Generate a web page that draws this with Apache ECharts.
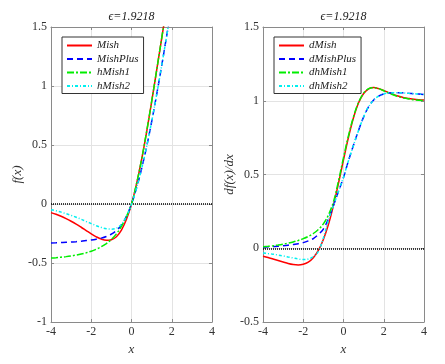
<!DOCTYPE html>
<html>
<head>
<meta charset="utf-8">
<script src="https://cdn.jsdelivr.net/npm/echarts@6/dist/echarts.min.js"></script>
<style>html,body{margin:0;padding:0;background:#fff;}#c{width:445px;height:364px;}</style>
</head>
<body>
<div id="c"></div>
<script>
// ---- data ----
const titleText = 'ϵ=1.9218';
const xTicks = [-4, -2, 0, 2, 4];
const xLeft = [-4,-3.75,-3.5,-3.25,-3,-2.75,-2.5,-2.25,-2,-1.75,-1.5,-1.25,-1,-0.75,-0.5,-0.25,0,0.25,0.5,0.75,1,1.25,1.5,1.75,2];
const xRight = [-4,-3.75,-3.5,-3.25,-3,-2.75,-2.5,-2.25,-2,-1.75,-1.5,-1.25,-1,-0.75,-0.5,-0.25,0,0.25,0.5,0.75,1,1.25,1.5,1.75,2,2.25,2.5,2.75,3,3.25,3.5,3.75,4];

const leftNames = ['Mish', 'MishPlus', 'hMish1', 'hMish2'];
const rightNames = ['dMish', 'dMishPlus', 'dhMish1', 'dhMish2'];

const mish = [-0.073,-0.087,-0.104,-0.124,-0.146,-0.170,-0.197,-0.225,-0.253,-0.278,-0.298,-0.308,-0.303,-0.277,-0.221,-0.130,0,0.170,0.375,0.610,0.865,1.132,1.403,1.675,1.944];
const mishPlus = [-0.330,-0.329,-0.327,-0.325,-0.322,-0.319,-0.315,-0.310,-0.305,-0.298,-0.289,-0.275,-0.255,-0.225,-0.178,-0.105,0,0.135,0.298,0.485,0.696,0.927,1.173,1.427,1.686];
const hMish1 = [-0.458,-0.455,-0.451,-0.446,-0.440,-0.433,-0.424,-0.413,-0.400,-0.383,-0.362,-0.335,-0.300,-0.253,-0.190,-0.105,0,0.172,0.378,0.613,0.868,1.135,1.405,1.677,1.945];
const hMish2 = [-0.048,-0.058,-0.069,-0.082,-0.096,-0.112,-0.129,-0.148,-0.166,-0.184,-0.199,-0.210,-0.213,-0.205,-0.172,-0.105,0,0.135,0.298,0.485,0.696,0.927,1.173,1.427,1.686];

const dMish = [-0.054,-0.063,-0.073,-0.083,-0.093,-0.103,-0.110,-0.113,-0.108,-0.094,-0.064,-0.015,0.059,0.161,0.290,0.440,0.600,0.754,0.886,0.986,1.049,1.081,1.089,1.082,1.069,1.055,1.041,1.030,1.021,1.015,1.010,1.007,1.005];
const dMishPlus = [0.008,0.010,0.012,0.014,0.017,0.021,0.026,0.031,0.038,0.050,0.066,0.093,0.130,0.200,0.290,0.385,0.480,0.595,0.700,0.800,0.890,0.960,1.005,1.032,1.046,1.053,1.055,1.055,1.053,1.050,1.048,1.045,1.043];
const dhMish1 = [0.010,0.013,0.017,0.022,0.028,0.035,0.043,0.053,0.065,0.080,0.100,0.127,0.165,0.225,0.315,0.455,0.615,0.765,0.893,0.990,1.051,1.082,1.089,1.082,1.068,1.053,1.039,1.027,1.018,1.012,1.007,1.004,1.002];
const dhMish2 = [-0.032,-0.036,-0.040,-0.046,-0.052,-0.059,-0.066,-0.073,-0.077,-0.073,-0.057,-0.022,0.070,0.190,0.288,0.385,0.482,0.595,0.700,0.800,0.890,0.960,1.005,1.032,1.046,1.053,1.055,1.055,1.053,1.050,1.048,1.045,1.043];

// ---- chart ----
const FONT = '"Liberation Serif", "Times New Roman", serif';
const axisColor = '#8a8a8a';
const labelColor = '#333';
const gridColor = '#e3e3e3';

const colors = ['#ff0000', '#0000ff', '#00ee00', '#00f0f0'];
const lineTypes = ['solid', [6, 4], [7, 2, 2, 2], [3, 2, 1, 2]];

function pairs(xs, ys) { return xs.map((x, i) => [x, ys[i]]); }

function xAxes(gi) {
  return [
    { type: 'value', gridIndex: gi, min: -4, max: 4, interval: 2, position: 'bottom',
      name: 'x', nameLocation: 'middle', nameGap: 19,
      nameTextStyle: { fontFamily: FONT, fontStyle: 'italic', fontSize: 13, color: labelColor },
      axisLine: { show: true, onZero: false, lineStyle: { color: axisColor } },
      axisTick: { show: true, inside: true, length: 3, lineStyle: { color: axisColor } },
      axisLabel: { fontFamily: FONT, fontSize: 12, color: labelColor, margin: 4 },
      splitLine: { show: true, lineStyle: { color: gridColor } } },
    { type: 'value', gridIndex: gi, min: -4, max: 4, interval: 2, position: 'top',
      axisLine: { show: true, onZero: false, lineStyle: { color: axisColor } },
      axisTick: { show: true, inside: true, length: 3, lineStyle: { color: axisColor } },
      axisLabel: { show: false }, splitLine: { show: false } }
  ];
}
function yAxes(gi, min, max, name, gap) {
  return [
    { type: 'value', gridIndex: gi, min: min, max: max, interval: 0.5, position: 'left',
      name: name, nameLocation: 'middle', nameGap: gap,
      nameTextStyle: { fontFamily: FONT, fontStyle: 'italic', fontSize: 13, color: labelColor },
      axisLine: { show: true, onZero: false, lineStyle: { color: axisColor } },
      axisTick: { show: true, inside: true, length: 3, lineStyle: { color: axisColor } },
      axisLabel: { fontFamily: FONT, fontSize: 12, color: labelColor, margin: 4 },
      splitLine: { show: true, lineStyle: { color: gridColor } } },
    { type: 'value', gridIndex: gi, min: min, max: max, interval: 0.5, position: 'right',
      axisLine: { show: true, onZero: false, lineStyle: { color: axisColor } },
      axisTick: { show: true, inside: true, length: 3, lineStyle: { color: axisColor } },
      axisLabel: { show: false }, splitLine: { show: false } }
  ];
}

function mkSeries(names, xs, arrays, gi) {
  return arrays.map((arr, k) => {
    const s = {
      name: names[k], type: 'line', xAxisIndex: gi * 2, yAxisIndex: gi * 2,
      data: pairs(xs, arr), smooth: 0.35, symbol: 'none', clip: true,
      lineStyle: { color: colors[k], width: 1.5, type: lineTypes[k] },
      itemStyle: { color: colors[k] }, z: 3 + k, animation: false
    };
    if (k === 0) {
      s.markLine = { silent: true, symbol: ['none', 'none'], animation: false,
        label: { show: false },
        lineStyle: { color: '#000', type: [1, 1], width: 1.5 },
        data: [{ yAxis: 0 }] };
    }
    return s;
  });
}

function mkLegend(names, left, top) {
  return {
    data: names, orient: 'vertical', left: left, top: top,
    itemWidth: 25, itemHeight: 10, itemGap: 2.5,
    padding: [3, 5, 2, 4],
    backgroundColor: '#fff', borderColor: '#333', borderWidth: 1, borderRadius: 0,
    itemStyle: { opacity: 0 },
    textStyle: { fontFamily: FONT, fontStyle: 'italic', fontSize: 11, color: '#222', lineHeight: 10 },
    selectedMode: false
  };
}

const chart = echarts.init(document.getElementById('c'), null, { renderer: 'canvas' });
chart.setOption({
  animation: false,
  backgroundColor: '#fff',
  graphic: [
    { type: 'text', x: 131.5, y: 17, style: { text: titleText, font: 'italic 12px ' + FONT, fill: '#222', align: 'center', verticalAlign: 'middle' } },
    { type: 'text', x: 343.5, y: 17, style: { text: titleText, font: 'italic 12px ' + FONT, fill: '#222', align: 'center', verticalAlign: 'middle' } }
  ],
  grid: [
    { left: 51, top: 27, width: 161, height: 295 },
    { left: 263, top: 27, width: 161, height: 295 }
  ],
  xAxis: [...xAxes(0), ...xAxes(1)],
  yAxis: [...yAxes(0, -1, 1.5, 'f(x)', 22), ...yAxes(1, -0.5, 1.5, 'df(x)/dx', 20)],
  legend: [mkLegend(leftNames, 62, 37), mkLegend(rightNames, 274, 37)],
  series: [
    ...mkSeries(leftNames, xLeft, [mish, mishPlus, hMish1, hMish2], 0),
    ...mkSeries(rightNames, xRight, [dMish, dMishPlus, dhMish1, dhMish2], 1)
  ]
});
</script>
</body>
</html>
